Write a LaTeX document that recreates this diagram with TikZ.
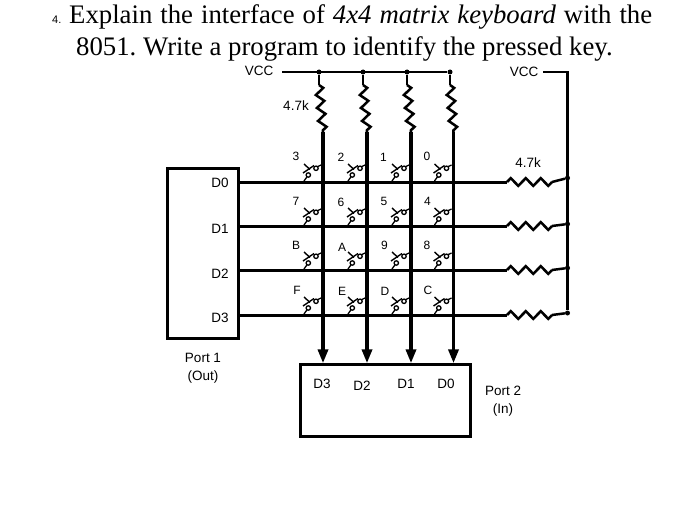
\documentclass[tikz,border=0pt]{standalone}
\usepackage{fontspec}
\setmainfont{Liberation Serif}
\setsansfont{Liberation Sans}
\usepackage{xcolor}
\usetikzlibrary{arrows.meta}
\usetikzlibrary{decorations.pathmorphing}

\begin{document}
\frenchspacing
\begin{tikzpicture}[
    x=1pt, y=-1pt,
    wire/.style={line width=3pt},
    colwire/.style={line width=3.4pt},
    thinwire/.style={line width=2.5pt},
    rowres/.style={thinwire, decorate, decoration={zigzag, segment length=15pt, amplitude=3.8pt}},
    colres/.style={thinwire, decorate, decoration={zigzag, segment length=13pt, amplitude=4pt}},
    port/.style={rectangle, draw=black, line width=3pt, inner sep=0pt},
    lbl/.style={font=\sffamily\fontsize{13.5}{18}\selectfont, inner sep=0pt, align=center},
    keylbl/.style={font=\sffamily\fontsize{12}{13}\selectfont, inner sep=0pt},
    title/.style={font=\fontsize{26.75}{30}\selectfont, anchor=base west, inner sep=0pt},
    junction/.style={circle, fill=black, inner sep=0pt, minimum size=5pt},
    keysw/.pic={
        \draw[line width=1.4pt] (-20,-9) -- (-9,-16.5);
        \draw[line width=1.4pt] (-19,-18) -- (-13,-12.5);
        \draw[line width=1.3pt] (-7,-13.7) circle (2.2);
        \draw[line width=1.3pt] (-5.5,-15.3) -- (-2,-17);
        \draw[line width=1.3pt] (-14.7,-7) circle (2.2);
        \draw[line width=1.3pt] (-16,-5.2) -- (-19,-1);
    }
]
\useasboundingbox (0,0) rectangle (700,513);
\fill[white] (0,0) rectangle (700,513);

% question text
\node[font=\sffamily\fontsize{11}{12}\selectfont, anchor=base west, inner sep=0pt] (qnum) at (52,24) {4.};
\node[title] (line1) at (69,24) {\spaceskip=8pt Explain the interface of \textit{4x4 matrix keyboard} with the};
\node[title] (line2) at (76,56) {8051. Write a program to identify the pressed key.};

% ports
\node[port, minimum width=71pt, minimum height=170pt] (port1) at (202.5,253) {};
\node[port, minimum width=170pt, minimum height=72pt] (port2) at (385,400) {};
\node[lbl] (p1d0) at (220,183) {D0};
\node[lbl] (p1d1) at (220,229) {D1};
\node[lbl] (p1d2) at (220,274) {D2};
\node[lbl] (p1d3) at (220,318) {D3};
\node[lbl] (p1name) at (203,368) {Port 1\\(Out)};
\node[lbl] (p2d3) at (322,384) {D3};
\node[lbl] (p2d2) at (362,386) {D2};
\node[lbl] (p2d1) at (406,384) {D1};
\node[lbl] (p2d0) at (446,384) {D0};
\node[lbl] (p2name) at (503,401) {Port 2\\(In)};

% supply
\node[lbl] (vcc1) at (259,71) {VCC};
\node[lbl] (vcc2) at (524,72) {VCC};
\node[lbl] (r1) at (296,106) {4.7k};
\node[lbl] (r2) at (528,163) {4.7k};
\coordinate (vcc1e) at (282,72);
\coordinate (vcc2e) at (543,72);
\node[junction] (top3) at (319,72) {};
\node[junction] (top2) at (363,72) {};
\node[junction] (top1) at (407,72) {};
\node[junction] (top0) at (450,72) {};
\coordinate (corner) at (567.5,72);
\node[junction] (rail0) at (567.5,178) {};
\node[junction] (rail1) at (567.5,224) {};
\node[junction] (rail2) at (567.5,268) {};
\node[junction] (rail3) at (567.5,313) {};
\draw[thinwire] (vcc1e) -- (top0);
\draw[thinwire] (vcc2e) -- (corner) -- (rail3);

% column pull-ups
\coordinate (col3a) at (319,85);  \coordinate (col3b) at (323,132);
\coordinate (col2a) at (363,85);  \coordinate (col2b) at (367,132);
\coordinate (col1a) at (407,85);  \coordinate (col1b) at (411,132);
\coordinate (col0a) at (450,85);  \coordinate (col0b) at (453.5,132);
\node[inner sep=0pt] (in3) at (323,364) {};
\node[inner sep=0pt] (in2) at (367,364) {};
\node[inner sep=0pt] (in1) at (411,364) {};
\node[inner sep=0pt] (in0) at (453.5,364) {};
\foreach \c in {3,2,1,0}{
    \draw[thinwire] (top\c) -- (col\c a);
    \draw[colres] (col\c a) -- (col\c b);
    \draw[colwire, -{Triangle[length=14pt, width=10pt]}] (col\c b) -- (in\c);
}

% rows
\coordinate (row0a) at (238,182);  \coordinate (row0b) at (507,182);  \coordinate (row0c) at (552,182);
\coordinate (row1a) at (238,226);  \coordinate (row1b) at (507,226);  \coordinate (row1c) at (552,226);
\coordinate (row2a) at (238,270);  \coordinate (row2b) at (507,270);  \coordinate (row2c) at (552,270);
\coordinate (row3a) at (238,315);  \coordinate (row3b) at (507,315);  \coordinate (row3c) at (552,315);
\foreach \r in {0,1,2,3}{
    \draw[wire] (row\r a) -- (row\r b);
    \draw[rowres] (row\r b) -- (row\r c);
    \draw[thinwire] (row\r c) -- (rail\r);
}

% keys
\pic at (323,182) {keysw};
\pic at (367,182) {keysw};
\pic at (411,182) {keysw};
\pic at (453.5,182) {keysw};
\pic at (323,226) {keysw};
\pic at (367,226) {keysw};
\pic at (411,226) {keysw};
\pic at (453.5,226) {keysw};
\pic at (323,270) {keysw};
\pic at (367,270) {keysw};
\pic at (411,270) {keysw};
\pic at (453.5,270) {keysw};
\pic at (323,315) {keysw};
\pic at (367,315) {keysw};
\pic at (411,315) {keysw};
\pic at (453.5,315) {keysw};
\node[keylbl] (k3) at (296,156) {3};
\node[keylbl] (k2) at (341,157) {2};
\node[keylbl] (k1) at (383.5,157) {1};
\node[keylbl] (k0) at (427,156) {0};
\node[keylbl] (k7) at (296,201) {7};
\node[keylbl] (k6) at (341,202) {6};
\node[keylbl] (k5) at (384,201) {5};
\node[keylbl] (k4) at (427.5,201) {4};
\node[keylbl] (kB) at (296,245) {B};
\node[keylbl] (kA) at (342,247) {A};
\node[keylbl] (k9) at (384.5,245) {9};
\node[keylbl] (k8) at (427,245) {8};
\node[keylbl] (kF) at (297,290) {F};
\node[keylbl] (kE) at (342,291) {E};
\node[keylbl] (kD) at (385,291) {D};
\node[keylbl] (kC) at (428,290) {C};

\end{tikzpicture}
\end{document}
